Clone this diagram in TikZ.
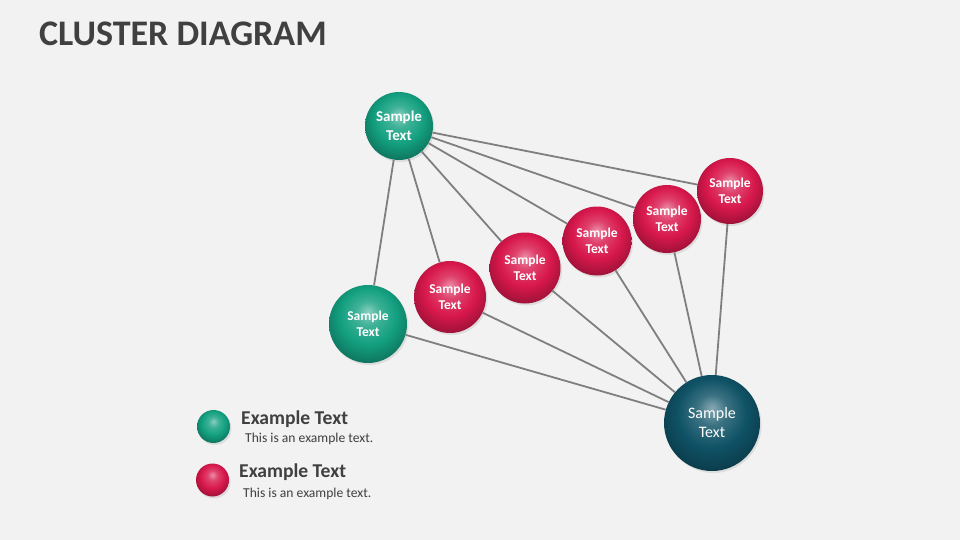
\documentclass[tikz,border=0pt]{standalone}
\usepackage{fontspec}
\setmainfont{Carlito}
\usetikzlibrary{shadows}

\definecolor{bgcol}{HTML}{F2F2F2}
\definecolor{titlecol}{HTML}{404040}
\definecolor{linecol}{HTML}{7F7F7F}
\definecolor{greencol}{HTML}{13A080}
\definecolor{redcol}{HTML}{D8184C}
\definecolor{tealcol}{HTML}{0F5266}
\colorlet{spherecol}{greencol}

% sphere look: light on top, darker towards the rim
\pgfdeclareradialshading[spherecol]{sphere}{\pgfqpoint{0bp}{8bp}}{%
  color(0bp)=(spherecol!50!white); color(8bp)=(spherecol!82!white);
  color(18bp)=(spherecol); color(26bp)=(spherecol!80!black);
  color(31bp)=(spherecol!65!black); color(34bp)=(spherecol!80!black);
  color(50bp)=(spherecol!80!black)}

\tikzset{
  sphere/.style={circle, inner sep=0pt, minimum size=#1, shading=sphere,
    text=white, align=center,
    drop shadow={opacity=0.18, shadow xshift=1.5pt, shadow yshift=-2pt}},
  sphere color/.code={\colorlet{spherecol}{#1}},
  smalltext/.style={font=\bfseries\fontsize{13.5}{16.5}\selectfont},
  bigtext/.style={font=\fontsize{16}{19}\selectfont},
  link/.style={draw=linecol, line width=1.8pt},
  legendhead/.style={anchor=base west, inner sep=0pt, text=titlecol,
    font=\bfseries\fontsize{19.6}{22}\selectfont},
  legendtext/.style={anchor=base west, inner sep=0pt, text=titlecol,
    font=\fontsize{13.6}{15}\selectfont},
}

\begin{document}
\begin{tikzpicture}[x=1pt, y=-1pt]
    \useasboundingbox (0,0) rectangle (960,540);
    \fill[bgcol] (0,0) rectangle (960,540);

    \node[anchor=base west, inner sep=0pt, text=titlecol,
      font=\bfseries\fontsize{36}{40}\selectfont] (title) at (39,46) {CLUSTER DIAGRAM};

    % cluster
    \node[sphere=68pt, sphere color=greencol, font=\bfseries\fontsize{15}{18.5}\selectfont] (g1) at (399,126) {Sample\\Text};
    \node[sphere=78pt, sphere color=greencol, smalltext] (g2) at (368,324) {Sample\\Text};
    \node[sphere=72pt, sphere color=redcol, smalltext] (r1) at (450,297) {Sample\\Text};
    \node[sphere=71pt, sphere color=redcol, smalltext] (r2) at (525,268) {Sample\\Text};
    \node[sphere=69pt, sphere color=redcol, smalltext] (r3) at (597,241) {Sample\\Text};
    \node[sphere=68pt, sphere color=redcol, smalltext] (r4) at (667,219) {Sample\\Text};
    \node[sphere=66pt, sphere color=redcol, smalltext] (r5) at (730,191) {Sample\\Text};
    \node[sphere=96pt, sphere color=tealcol, bigtext] (hub) at (712,423) {Sample\\Text};

    \foreach \n in {g2,r1,r2,r3,r4,r5} {
        \draw[link] (g1) -- (\n);
        \draw[link] (hub) -- (\n);
    }

    % legend
    \node[sphere=33pt, sphere color=greencol] (lg) at (213.5,426.5) {};
    \node[sphere=33pt, sphere color=redcol] (lr) at (212.5,480) {};
    \node[legendhead] (lgh) at (241,424) {Example Text};
    \node[legendtext] (lgt) at (245,442) {This is an example text.};
    \node[legendhead] (lrh) at (239,477) {Example Text};
    \node[legendtext] (lrt) at (243,497) {This is an example text.};
\end{tikzpicture}
\end{document}
